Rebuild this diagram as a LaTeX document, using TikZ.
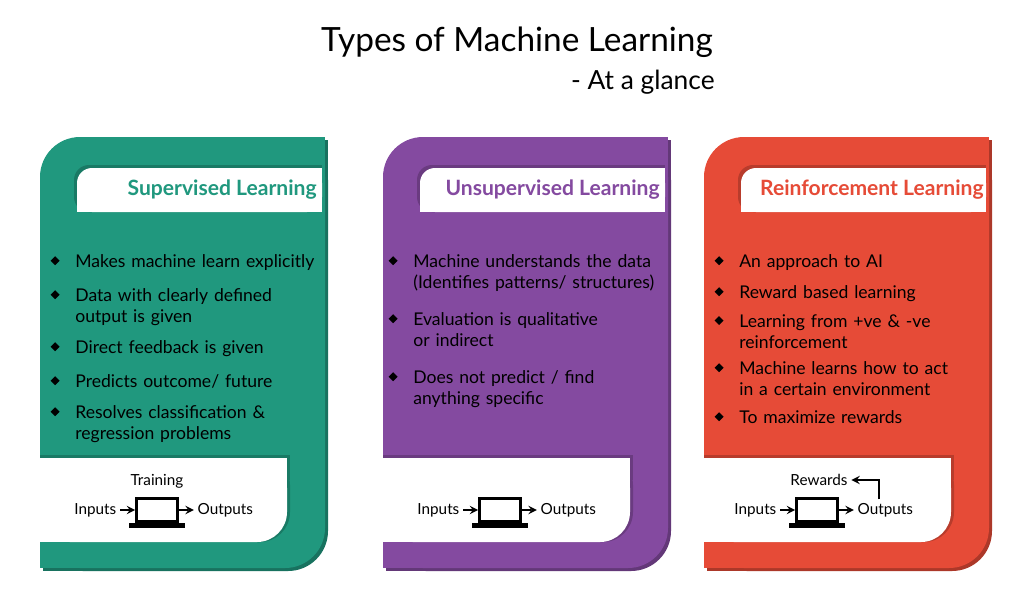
\documentclass[tikz,border=0pt]{standalone}
\usepackage{fontspec}
\setmainfont{Lato}
\usetikzlibrary{arrows,positioning}
\definecolor{supc}{RGB}{32,152,126}
\definecolor{unsc}{RGB}{132,74,160}
\definecolor{rlc}{RGB}{230,75,55}

\begin{document}
\begin{tikzpicture}[
    x=0.02cm, y=-0.02cm,
    heading/.style={font=\fontsize{12}{14}\selectfont\bfseries, anchor=east, inner sep=0},
    point/.style={anchor=north west, inner sep=0, text width=5.4cm, align=left, font=\fontsize{10}{12.2}\selectfont},
    screen/.style={draw=black, line width=1.5pt, fill=white, minimum width=0.82cm, minimum height=0.46cm, inner sep=0},
    base/.style={fill=black, minimum width=1.12cm, minimum height=0.09cm, inner sep=0},
    lbl/.style={font=\fontsize{8.7}{10}\selectfont, inner sep=2pt},
    arrow/.style={->, >=stealth, line width=1.1pt},
]
\newcommand{\bul}{\llap{\raisebox{1.2pt}{\rotatebox{45}{\rule{3.6pt}{3.6pt}}}\hspace{9pt}}}
\useasboundingbox (0,0) rectangle (1025,600);

% Title
\node[font=\fontsize{19}{22}\selectfont, inner sep=0] (title) at (517,42) {Types of Machine Learning};
\node[font=\fontsize{15}{18}\selectfont, anchor=east, inner sep=0] (sub) at (715,82) {- At a glance};

% Card shapes
\foreach \X/\c in {40/supc, 383/unsc, 704/rlc} {
  \begin{scope}[shift={(\X+3,3)}]
    \fill[\c!75!black, rounded corners=0.8cm] (0,137) rectangle (285,568);
    \fill[\c!75!black] (100,137) rectangle (285,300);
    \fill[\c!75!black] (0,400) rectangle (100,568);
  \end{scope}
  \begin{scope}[shift={(\X,0)}]
    \fill[\c, rounded corners=0.8cm] (0,137) rectangle (285,568);
    \fill[\c] (100,137) rectangle (285,300);
    \fill[\c] (0,400) rectangle (100,568);
    % title strip
    \fill[\c!80!black, rounded corners=0.3cm] (34,165) rectangle (282,212);
    \fill[\c!80!black] (100,165) rectangle (282,212);
    \fill[white, rounded corners=0.3cm] (37,168) rectangle (282,212);
    \fill[white] (100,168) rectangle (282,212);
    \fill[white] (37,190) rectangle (100,212);
    % bottom strip
    \fill[\c!80!black, rounded corners=0.6cm] (0,455) rectangle (250,542);
    \fill[\c!80!black] (0,455) rectangle (250,480);
    \fill[\c!80!black] (0,455) rectangle (100,542);
    \fill[white, rounded corners=0.6cm] (0,458) rectangle (247,542);
    \fill[white] (0,458) rectangle (247,490);
    \fill[white] (0,458) rectangle (100,542);
  \end{scope}
}

% Supervised Learning
\node[heading, text=supc] (sup-title) at (317,190) {Supervised Learning};
\node[point] (sup-1) at (75,254) {\bul Makes machine learn explicitly};
\node[point] (sup-2) at (75,288) {\bul Data with clearly defined\\output is given};
\node[point] (sup-3) at (75,340) {\bul Direct feedback is given};
\node[point] (sup-4) at (75,374) {\bul Predicts outcome/ future};
\node[point] (sup-5) at (75,405) {\bul Resolves classification \&\\regression problems};
\node[screen] (sup-screen) at (157,510) {};
\node[base, below=0pt of sup-screen] (sup-base) {};
\node[lbl, left=0.3cm of sup-screen] (sup-in) {Inputs};
\node[lbl, right=0.3cm of sup-screen] (sup-out) {Outputs};
\node[lbl, above=0.1cm of sup-screen] (sup-train) {Training};
\draw[arrow] (sup-in) -- (sup-screen);
\draw[arrow] (sup-screen) -- (sup-out);

% Unsupervised Learning
\node[heading, text=unsc] (uns-title) at (660,190) {Unsupervised Learning};
\node[point] (uns-1) at (413,254) {\bul Machine understands the data\\(Identifies patterns/ structures)};
\node[point] (uns-2) at (413,312) {\bul Evaluation is qualitative\\or indirect};
\node[point] (uns-3) at (413,370) {\bul Does not predict / find\\anything specific};
\node[screen] (uns-screen) at (500,510) {};
\node[base, below=0pt of uns-screen] (uns-base) {};
\node[lbl, left=0.3cm of uns-screen] (uns-in) {Inputs};
\node[lbl, right=0.3cm of uns-screen] (uns-out) {Outputs};
\draw[arrow] (uns-in) -- (uns-screen);
\draw[arrow] (uns-screen) -- (uns-out);

% Reinforcement Learning
\node[heading, text=rlc] (rl-title) at (984,190) {Reinforcement Learning};
\node[point] (rl-1) at (739,254) {\bul An approach to AI};
\node[point] (rl-2) at (739,285) {\bul Reward based learning};
\node[point] (rl-3) at (739,314) {\bul Learning from +ve \& -ve\\reinforcement};
\node[point] (rl-4) at (739,361) {\bul Machine learns how to act\\in a certain environment};
\node[point] (rl-5) at (739,410) {\bul To maximize rewards};
\node[screen] (rl-screen) at (817,510) {};
\node[base, below=0pt of rl-screen] (rl-base) {};
\node[lbl, left=0.3cm of rl-screen] (rl-in) {Inputs};
\node[lbl, right=0.3cm of rl-screen] (rl-out) {Outputs};
\node[lbl] (rl-rew) at (819,480) {Rewards};
\draw[arrow] (rl-in) -- (rl-screen);
\draw[arrow] (rl-screen) -- (rl-out);
\draw[arrow] ([xshift=-0.12cm]rl-out.north) |- (rl-rew);

\end{tikzpicture}
\end{document}
